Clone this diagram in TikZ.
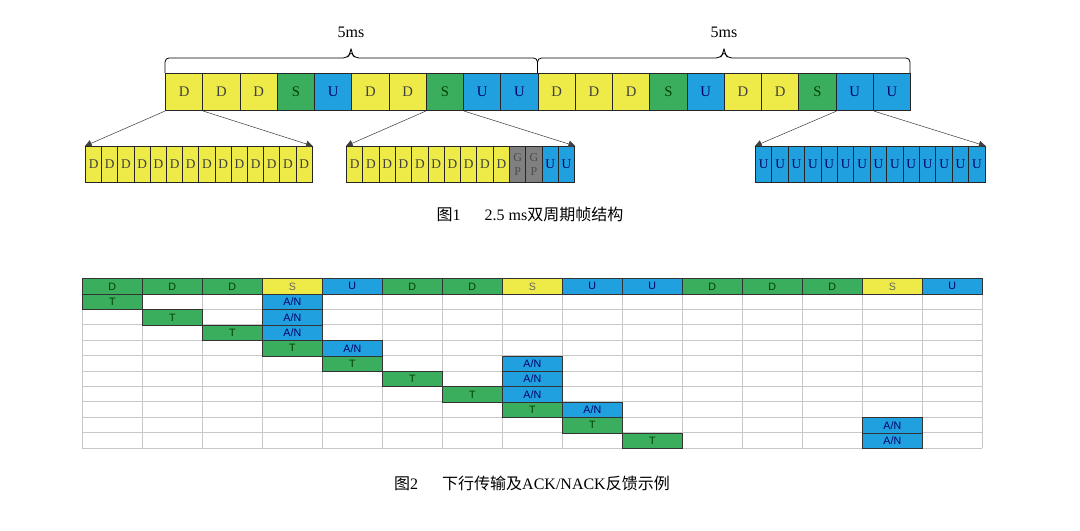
\documentclass[tikz,border=0pt]{standalone}
\usepackage{fontspec}
\setmainfont{Liberation Serif}
\newfontfamily\cjk{Noto Sans CJK SC}
\newfontfamily\gsans{Liberation Sans}
\usetikzlibrary{arrows.meta}
\definecolor{yy}{RGB}{238,234,72}
\definecolor{gg}{RGB}{58,174,92}
\definecolor{bb}{RGB}{32,160,222}
\definecolor{gp}{RGB}{128,128,128}
\definecolor{gl}{RGB}{200,200,200}
\tikzset{
 fr/.style={draw=black!85,line width=0.8pt,minimum width=37.25*0.75pt,minimum height=37*0.75pt,inner sep=0pt,font=\fontsize{11}{11}\selectfont,anchor=north west},
 sb/.style={draw=black!85,line width=0.7pt,minimum width=#1*0.75pt,minimum height=36*0.75pt,inner sep=0pt,font=\fontsize{10}{10}\selectfont,anchor=north west},
 Dc/.style={fill=yy,text=black!75},
 Sc/.style={fill=gg,text=green!25!black},
 Uc/.style={fill=bb,text=blue!40!black},
 Gc/.style={fill=gp,text=black!70},
 hd/.style={draw=black!80,line width=0.5pt,minimum width=60*0.75pt,minimum height=16*0.75pt,inner sep=0pt,font=\gsans\fontsize{8}{8}\selectfont,anchor=north west},
 hD/.style={fill=gg,text=green!25!black},
 hS/.style={fill=yy,text=black!60},
 hU/.style={fill=bb,text=blue!40!black},
 ar/.style={-{Triangle[length=5pt,width=5pt]},line width=0.4pt,black!75},
 br/.style={line width=0.6pt,rounded corners=3pt},
 lb/.style={font=\fontsize{12}{12}\selectfont},
}
\begin{document}
\begin{tikzpicture}[x=0.75pt,y=-0.75pt]
\useasboundingbox (0,0) rectangle (1080,531);
% top frame
\foreach \t [count=\i from 0] in {D,D,D,S,U,D,D,S,U,U,D,D,D,S,U,D,D,S,U,U}{
  \node[fr,\t c] (f\i) at ({165+\i*37.25},73) {\t};
}
\coordinate (b1l) at (165,73); \coordinate (b1m) at (351,58); \coordinate (b1r) at (537.5,73);
\coordinate (b2l) at (537.5,73); \coordinate (b2m) at (724,58); \coordinate (b2r) at (910,73);
\foreach \b in {b1,b2}{
  \draw[br] (\b l) -- (\b l |- \b m) -- ([xshift=-3pt]\b m) -- ([xshift=-0.8pt,yshift=3pt]\b m) -- ([yshift=7pt]\b m);
  \draw[br] (\b r) -- (\b r |- \b m) -- ([xshift=3pt]\b m) -- ([xshift=0.8pt,yshift=3pt]\b m) -- ([yshift=7pt]\b m);
}
\node[lb] (l1) at (351,32) {5ms};
\node[lb] (l2) at (724,32) {5ms};
% sub frames
\foreach \i in {0,...,13}{ \node[sb=16.2,Dc] (a\i) at ({85+\i*16.2},146) {D}; }
\foreach \i in {0,...,9}{ \node[sb=16.3,Dc] (b\i) at ({346+\i*16.3},146) {D}; }
\foreach \i in {10,11}{ \node[sb=16.3,Gc,align=center,font=\fontsize{9}{10}\selectfont] (b\i) at ({346+\i*16.3},146) {G\\P}; }
\foreach \i in {12,13}{ \node[sb=16.3,Uc] (b\i) at ({346+\i*16.3},146) {U}; }
\foreach \i in {0,...,13}{ \node[sb=16.4,Uc] (c\i) at ({755+\i*16.4},146) {U}; }
\draw[ar] (f0.south west) -- (a0.north west);
\draw[ar] (f0.south east) -- (a13.north east);
\draw[ar] (f7.south west) -- (b0.north west);
\draw[ar] (f7.south east) -- (b13.north east);
\draw[ar] (f17.south east) -- (c0.north west);
\draw[ar] (f18.south east) -- (c13.north east);
\node[font=\fontsize{12}{12}\selectfont] (cap1) at (530,214) {{\cjk 图}1\hspace{1.5em}2.5 ms{\cjk 双周期帧结构}};
% grid
\foreach \r in {0,...,10}{ \draw[gl,line width=0.6pt] (82,{294+\r*15.4}) -- (982,{294+\r*15.4}); }
\foreach \c in {0,...,15}{ \draw[gl,line width=0.6pt] ({82+\c*60},294) -- ({82+\c*60},448); }
\foreach \t [count=\i from 0] in {D,D,D,S,U,D,D,S,U,U,D,D,D,S,U}{
  \node[hd,h\t] (h\i) at ({82+\i*60},278) {\t};
}
\foreach \tc/\ac [count=\r from 0] in {0/3,1/3,2/3,3/4,4/7,5/7,6/7,7/8,8/13,9/13}{
  \node[hd,fill=gg,minimum height=15.4*0.75pt,text=green!25!black] (t\r) at ({82+\tc*60},{294+\r*15.4}) {T};
  \node[hd,fill=bb,minimum height=15.4*0.75pt,text=blue!40!black] (n\r) at ({82+\ac*60},{294+\r*15.4}) {A/N};
}
\node[font=\fontsize{12}{12}\selectfont] (cap2) at (532,483) {{\cjk 图}2\hspace{1.5em}{\cjk 下行传输及}ACK/NACK{\cjk 反馈示例}};
\end{tikzpicture}
\end{document}
